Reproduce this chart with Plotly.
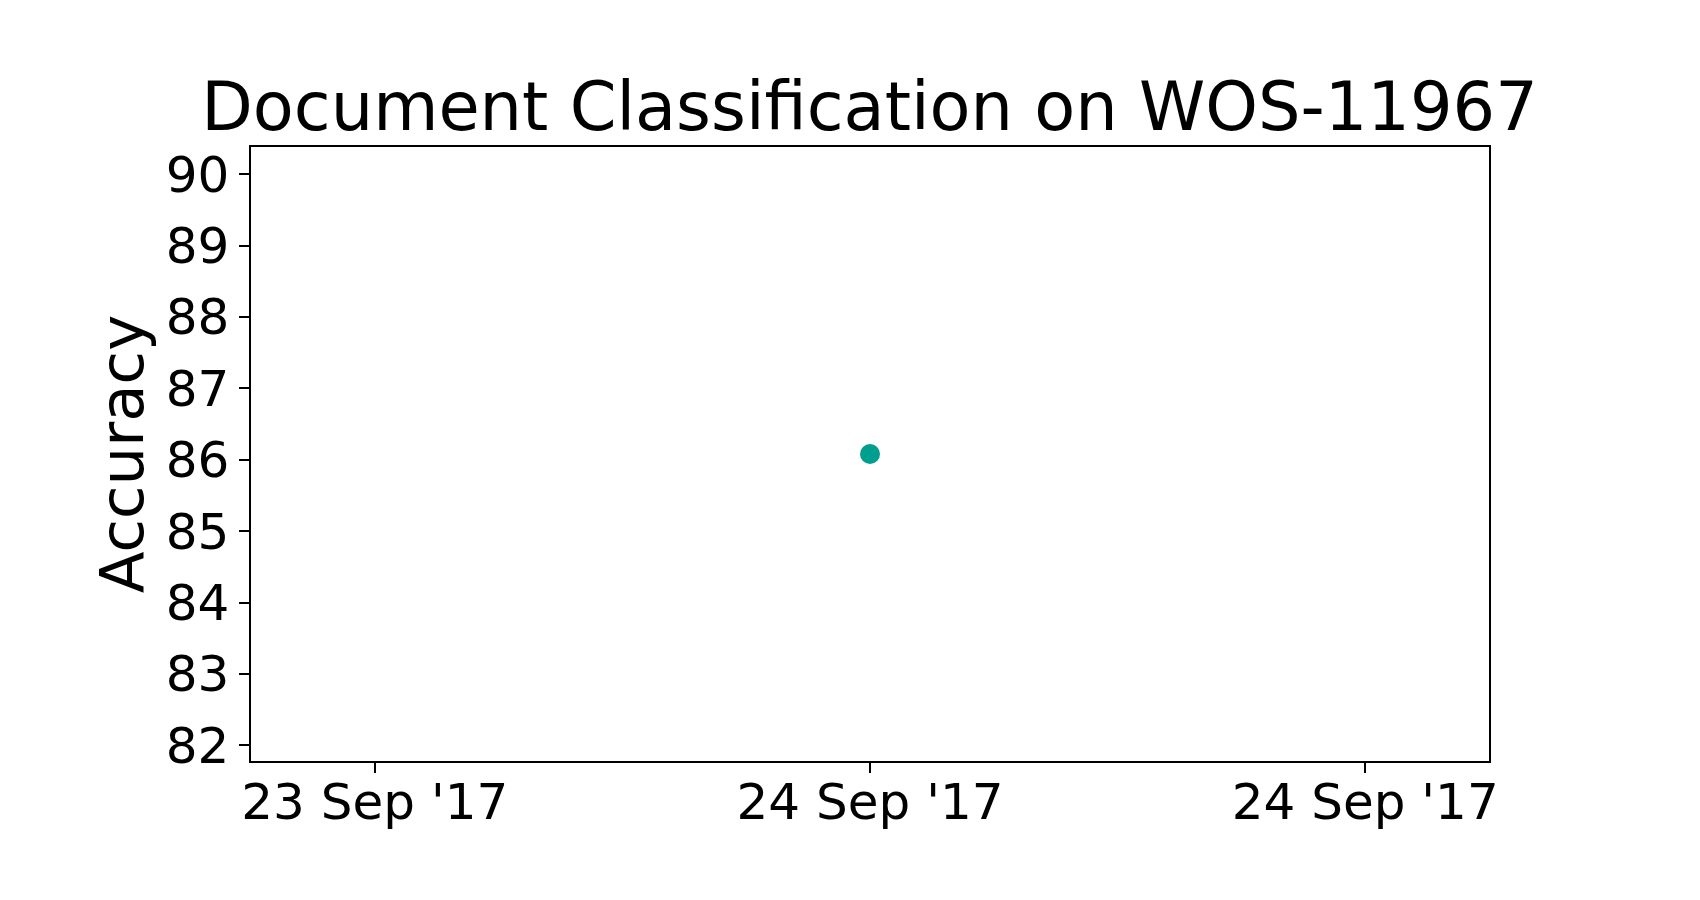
import plotly.graph_objects as go

dates = ["2017-09-24"]
accuracy = [86.08]

tick_dates = ["2017-09-23 12:00", "2017-09-24 00:00", "2017-09-24 12:00"]
tick_labels = ["23 Sep '17", "24 Sep '17", "24 Sep '17"]
y_ticks = [82, 83, 84, 85, 86, 87, 88, 89, 90]

fig = go.Figure()

fig.add_trace(
    go.Scatter(
        x=dates,
        y=accuracy,
        mode="markers",
        marker=dict(color="#009E8E", size=20),
        showlegend=False,
    )
)

axis_style = dict(
    showline=True,
    linecolor="black",
    linewidth=1.5,
    mirror=True,
    ticks="outside",
    ticklen=10,
    tickwidth=1.5,
    tickcolor="black",
    showgrid=False,
    zeroline=False,
    automargin=False,
    tickfont=dict(family="DejaVu Sans", size=50, color="black"),
)

fig.update_layout(
    width=1700,
    height=900,
    plot_bgcolor="white",
    paper_bgcolor="white",
    margin=dict(l=243, r=219, t=139, b=147),
    title=dict(
        text="Document Classification on WOS-11967",
        x=0.5068,
        xanchor="center",
        y=0.891,
        yanchor="middle",
        font=dict(family="DejaVu Sans", size=67, color="black"),
    ),
    xaxis=dict(
        axis_style,
        type="date",
        range=["2017-09-23 09:00", "2017-09-24 15:00"],
        tickvals=tick_dates,
        ticktext=tick_labels,
        ticklabelstandoff=-14,
    ),
    yaxis=dict(
        axis_style,
        range=[81.78, 90.38],
        tickvals=y_ticks,
        title=dict(
            text="Accuracy",
            font=dict(family="DejaVu Sans", size=61, color="black"),
            standoff=2,
        ),
    ),
)

fig.write_html("out.html")
